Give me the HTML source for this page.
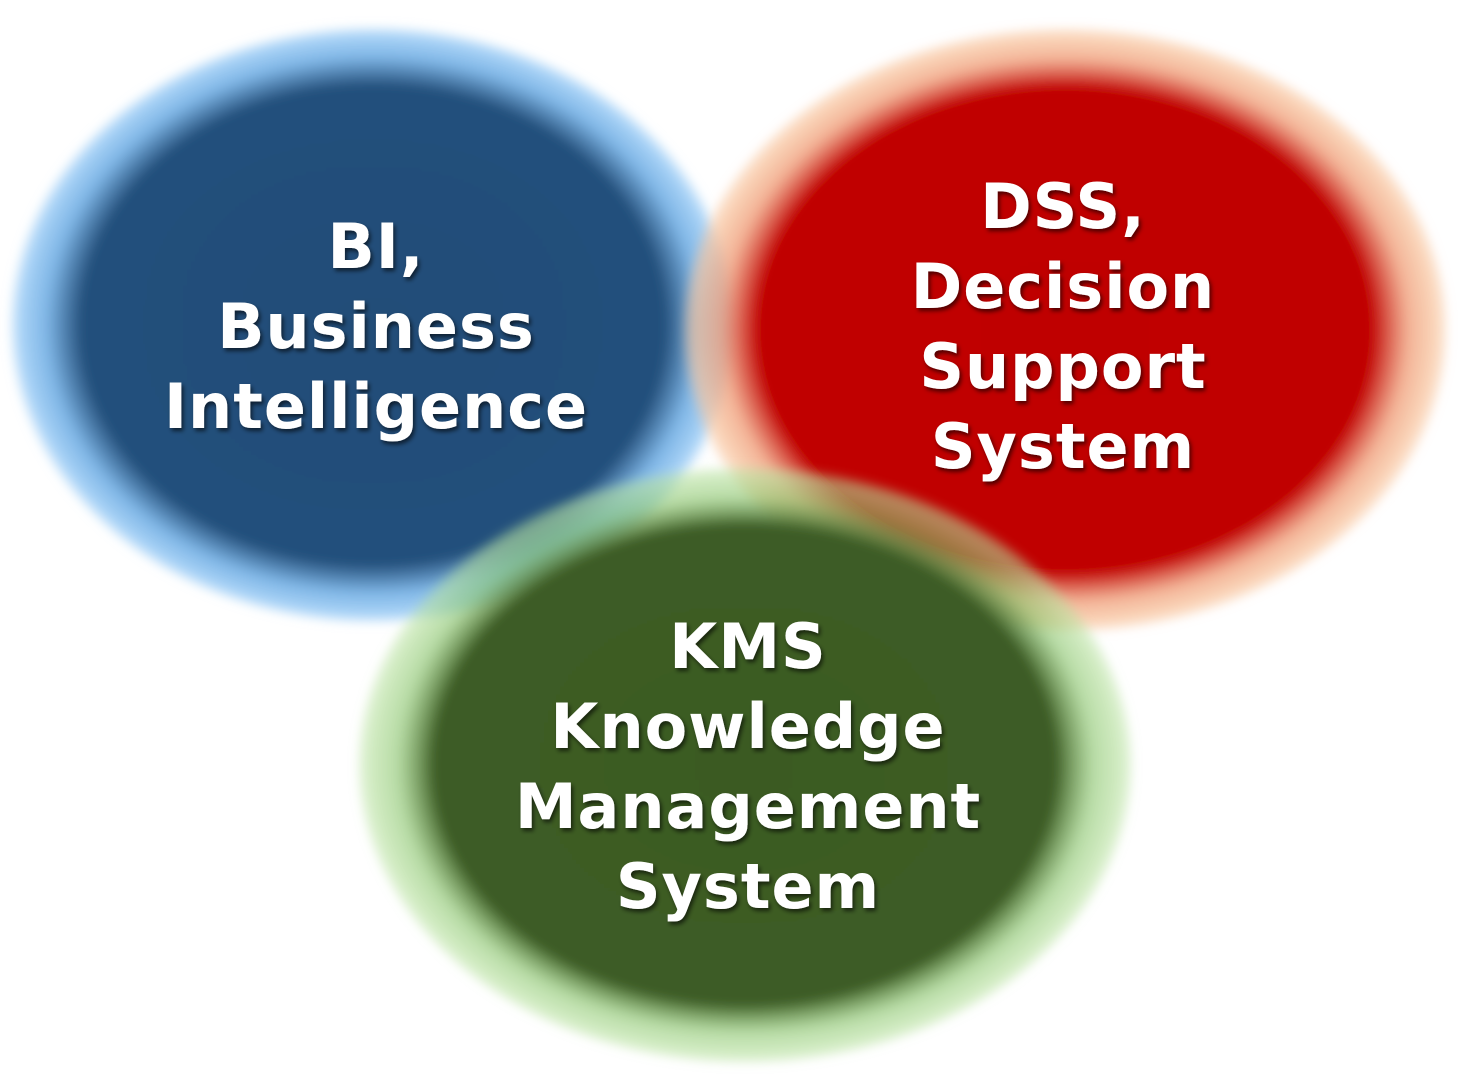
<!DOCTYPE html>
<html><head><meta charset="utf-8"><style>
html,body{margin:0;padding:0;background:#fff;}
svg{display:block;}
text{font-family:"DejaVu Sans","Liberation Sans",sans-serif;font-weight:bold;font-size:62px;letter-spacing:1px;fill:#fff;text-anchor:middle;}
</style></head><body>
<svg width="1465" height="1085" viewBox="0 0 1465 1085" xmlns="http://www.w3.org/2000/svg">
<defs>
<radialGradient id="gb" cx="50%" cy="50%" r="50%">
<stop offset="0" stop-color="#214d78"/>
<stop offset="0.8" stop-color="#234f7b"/>
<stop offset="0.9" stop-color="#7fb6e6"/>
<stop offset="0.97" stop-color="#a9d3f7"/>
<stop offset="1" stop-color="#a9d3f7" stop-opacity="0.3"/>
</radialGradient>
<radialGradient id="gr" cx="50%" cy="50%" r="50%">
<stop offset="0" stop-color="#bf0000"/>
<stop offset="0.8" stop-color="#c00202"/>
<stop offset="0.9" stop-color="#ef9a74" stop-opacity="0.75"/>
<stop offset="0.97" stop-color="#f8c49c" stop-opacity="0.7"/>
<stop offset="1" stop-color="#f8c49c" stop-opacity="0.3"/>
</radialGradient>
<radialGradient id="gg" cx="50%" cy="50%" r="50%">
<stop offset="0" stop-color="#3a5a23"/>
<stop offset="0.8" stop-color="#3d5c25"/>
<stop offset="0.9" stop-color="#88c46a" stop-opacity="0.6"/>
<stop offset="0.97" stop-color="#b5e09c" stop-opacity="0.6"/>
<stop offset="1" stop-color="#b5e09c" stop-opacity="0.3"/>
</radialGradient>
<filter id="bl" x="-10%" y="-10%" width="120%" height="120%"><feGaussianBlur stdDeviation="5"/></filter>
<filter id="sh" x="-10%" y="-20%" width="120%" height="140%">
<feDropShadow dx="2" dy="3" stdDeviation="2" flood-color="#000" flood-opacity="0.6"/></filter>
</defs>
<ellipse cx="373" cy="325" rx="363" ry="298" fill="url(#gb)" filter="url(#bl)"/>
<ellipse cx="1065" cy="330" rx="382" ry="302" fill="url(#gr)" filter="url(#bl)"/>
<ellipse cx="745" cy="765" rx="387" ry="298" fill="url(#gg)" filter="url(#bl)"/>
<g filter="url(#sh)">
<text x="376" y="268">BI,</text>
<text x="376" y="348">Business</text>
<text x="376" y="428">Intelligence</text>
<text x="1063" y="228">DSS,</text>
<text x="1063" y="308">Decision</text>
<text x="1063" y="388">Support</text>
<text x="1063" y="468">System</text>
<text x="748" y="668">KMS</text>
<text x="748" y="748">Knowledge</text>
<text x="748" y="828">Management</text>
<text x="748" y="908">System</text>
</g>
</svg>
</body></html>
